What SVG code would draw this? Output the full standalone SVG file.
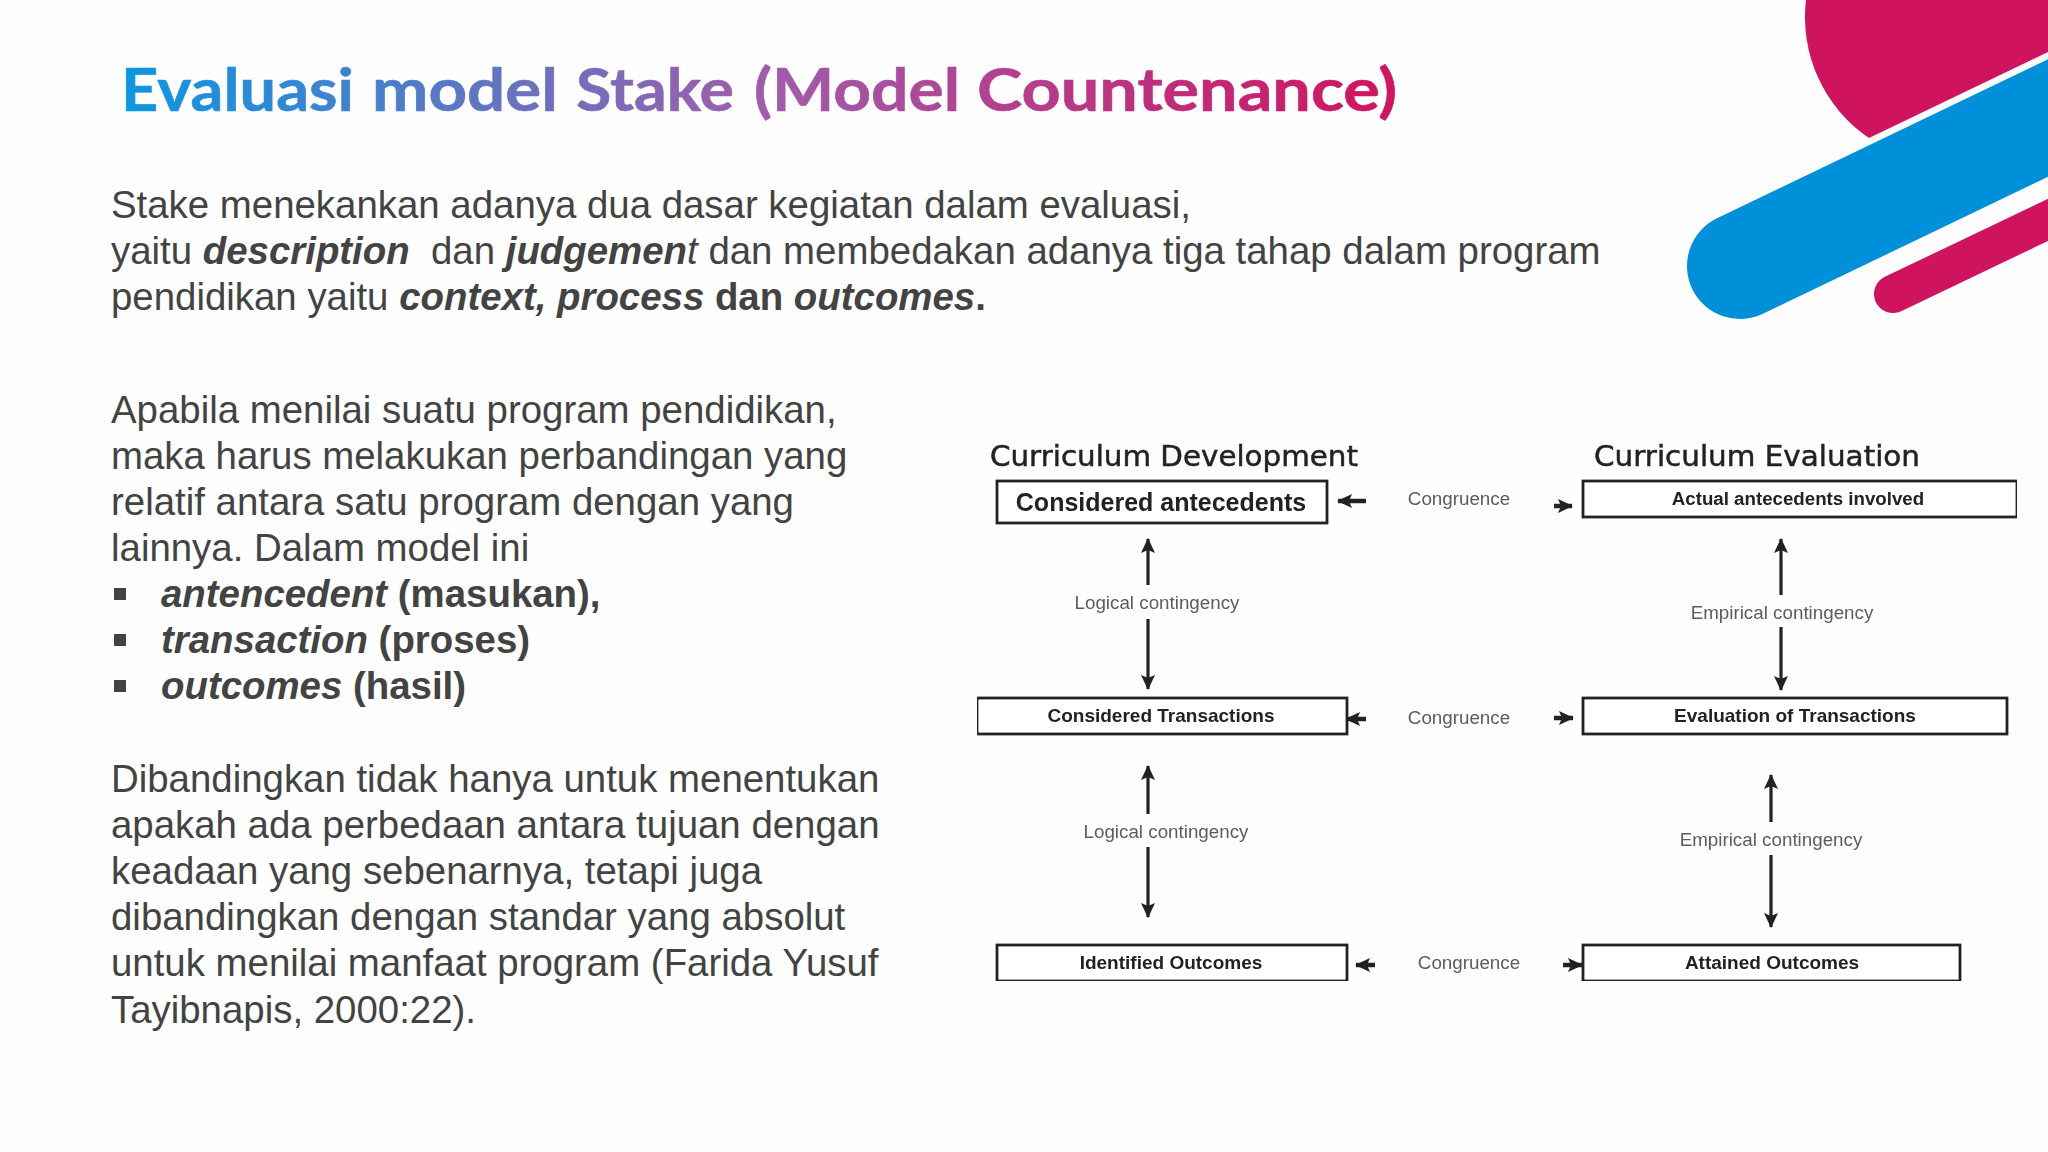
<svg xmlns="http://www.w3.org/2000/svg" width="2048" height="1152" viewBox="0 0 2048 1152">
<style>
.body{font-family:"Liberation Sans",Arial,sans-serif;font-size:38.4px;fill:#434343;white-space:pre}
.bi{font-weight:bold;font-style:italic}
.i{font-style:italic}
.b{font-weight:bold}
.box{fill:#fff;stroke:#222;stroke-width:2.8}
.hd{font-family:"DejaVu Sans",sans-serif;font-size:29px;fill:#222;stroke:#222;stroke-width:.5}
.nt{font-family:"Liberation Sans",Arial,sans-serif;font-weight:bold;fill:#222;text-anchor:middle}
.lb{font-family:"Liberation Sans",Arial,sans-serif;font-size:18.8px;fill:#5c5c5c;text-anchor:middle}
.cn{stroke:#222;stroke-width:3.2;fill:none;marker-end:url(#ah)}
.sh{stroke-width:4.5}
</style>
<defs>
<linearGradient id="tg" gradientUnits="userSpaceOnUse" x1="121" y1="0" x2="1397" y2="0">
<stop offset="0" stop-color="#0A97E2"/><stop offset="0.5" stop-color="#A05CAC"/><stop offset="1" stop-color="#D2125F"/>
</linearGradient>
<marker id="ah" markerUnits="userSpaceOnUse" markerWidth="16" markerHeight="18" refX="14" refY="9" orient="auto">
<path d="M0 2 L15 9 L0 16 L3 9 Z" fill="#222"/>
</marker>
<filter id="soft" x="0" y="0" width="100%" height="100%" filterUnits="objectBoundingBox"><feGaussianBlur stdDeviation="0.6"/></filter>
</defs>
<rect width="2048" height="1152" fill="#fefefe"/>
<g id="decor">
<path d="M1806 0 A146 146 0 0 0 1869 138 L2048 52 V0 Z" fill="#D0135F"/>
<path d="M1740 266 L2100 93" stroke="#008FD9" stroke-width="106" stroke-linecap="round" fill="none"/>
<path d="M1893 294 L2100 195" stroke="#D0135F" stroke-width="38" stroke-linecap="round" fill="none"/>
</g>
<text id="title" y="111" font-family="Lato,'Open Sans',sans-serif" font-weight="700" font-size="60" fill="url(#tg)" stroke="url(#tg)" stroke-width=".6"><tspan x="121" textLength="233" lengthAdjust="spacingAndGlyphs">Evaluasi</tspan> <tspan x="372" textLength="186" lengthAdjust="spacingAndGlyphs">model</tspan> <tspan x="576" textLength="158" lengthAdjust="spacingAndGlyphs">Stake</tspan> <tspan x="754" textLength="206" lengthAdjust="spacingAndGlyphs">(Model</tspan> <tspan x="977" textLength="420" lengthAdjust="spacingAndGlyphs">Countenance)</tspan></text>
<g id="intro">
<text class="body" x="111" y="218">Stake menekankan adanya dua dasar kegiatan dalam evaluasi,</text>
<text class="body" x="111" y="264">yaitu <tspan class="bi">description</tspan>  dan <tspan class="bi">judgemen</tspan><tspan class="i">t</tspan> dan membedakan adanya tiga tahap dalam program</text>
<text class="body" x="111" y="310">pendidikan yaitu <tspan class="bi">context, process</tspan> <tspan class="b">dan</tspan> <tspan class="bi">outcomes</tspan><tspan class="b">.</tspan></text>
</g>
<g id="para">
<text class="body" x="111" y="423">Apabila menilai suatu program pendidikan,</text>
<text class="body" x="111" y="469">maka harus melakukan perbandingan yang</text>
<text class="body" x="111" y="515">relatif antara satu program dengan yang</text>
<text class="body" x="111" y="561">lainnya. Dalam model ini</text>
<rect x="114" y="588" width="12" height="12" fill="#434343"/>
<rect x="114" y="634" width="12" height="12" fill="#434343"/>
<rect x="114" y="680" width="12" height="12" fill="#434343"/>
<text class="body" x="161" y="607"><tspan class="bi">antencedent</tspan><tspan class="b"> (masukan),</tspan></text>
<text class="body" x="161" y="653"><tspan class="bi">transaction</tspan><tspan class="b"> (proses)</tspan></text>
<text class="body" x="161" y="699"><tspan class="bi">outcomes</tspan><tspan class="b"> (hasil)</tspan></text>
<text class="body" x="111" y="791.5">Dibandingkan tidak hanya untuk menentukan</text>
<text class="body" x="111" y="838">apakah ada perbedaan antara tujuan dengan</text>
<text class="body" x="111" y="884">keadaan yang sebenarnya, tetapi juga</text>
<text class="body" x="111" y="930">dibandingkan dengan standar yang absolut</text>
<text class="body" x="111" y="976">untuk menilai manfaat program (Farida Yusuf</text>
<text class="body" x="111" y="1022.5">Tayibnapis, 2000:22).</text>
</g>
<g id="diagram" filter="url(#soft)">
<text id="head-dev" class="hd" x="990" y="466" textLength="368" lengthAdjust="spacingAndGlyphs">Curriculum Development</text>
<text id="head-eval" class="hd" x="1594" y="466" textLength="326" lengthAdjust="spacingAndGlyphs">Curriculum Evaluation</text>
<g id="connectors">
<path class="cn" d="M1148 585V539"/><path class="cn" d="M1148 619V689"/>
<path class="cn" d="M1781 595V539"/><path class="cn" d="M1781 627V690"/>
<path class="cn" d="M1148 814V766"/><path class="cn" d="M1148 847V917"/>
<path class="cn" d="M1771 822V775"/><path class="cn" d="M1771 855V927"/>
<path class="cn sh" d="M1366 501H1338"/><path class="cn sh" d="M1554 506H1572"/>
<path class="cn sh" d="M1366 719H1346"/><path class="cn sh" d="M1554 718H1573"/>
<path class="cn sh" d="M1375 965H1356"/><path class="cn sh" d="M1563 965H1582"/>
</g>
<g id="n-considered-antecedents"><rect class="box" x="997" y="481" width="330" height="42"/><text class="nt" x="1161" y="511" font-size="25">Considered antecedents</text></g>
<g id="n-actual-antecedents"><rect class="box" x="1583" y="481" width="434" height="36"/><text class="nt" x="1798" y="505" font-size="18.7">Actual antecedents involved</text></g>
<g id="n-considered-transactions"><rect class="box" x="977" y="698" width="370" height="36"/><text class="nt" x="1161" y="722" font-size="19">Considered Transactions</text></g>
<g id="n-evaluation-transactions"><rect class="box" x="1583" y="698" width="424" height="36"/><text class="nt" x="1795" y="722" font-size="19">Evaluation of Transactions</text></g>
<g id="n-identified-outcomes"><rect class="box" x="997" y="945" width="350" height="36"/><text class="nt" x="1171" y="969" font-size="19">Identified Outcomes</text></g>
<g id="n-attained-outcomes"><rect class="box" x="1583" y="945" width="377" height="36"/><text class="nt" x="1772" y="969" font-size="19">Attained Outcomes</text></g>
<g id="labels">
<text class="lb" x="1459" y="505">Congruence</text>
<text class="lb" x="1459" y="724">Congruence</text>
<text class="lb" x="1469" y="969">Congruence</text>
<text class="lb" x="1157" y="609">Logical contingency</text>
<text class="lb" x="1166" y="838">Logical contingency</text>
<text class="lb" x="1782" y="619">Empirical contingency</text>
<text class="lb" x="1771" y="846">Empirical contingency</text>
</g>
</g>
</svg>
